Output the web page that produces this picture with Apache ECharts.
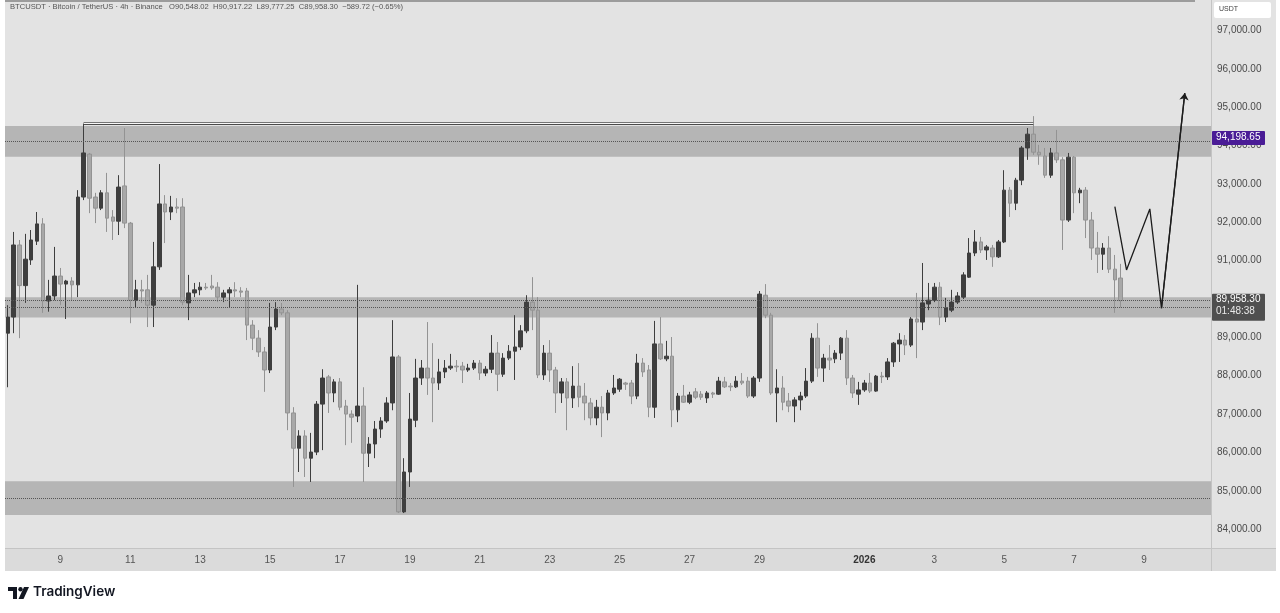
<!DOCTYPE html>
<html>
<head>
<meta charset="utf-8">
<script src="https://cdn.jsdelivr.net/npm/echarts@6/dist/echarts.min.js"></script>
<style>
  html, body { margin: 0; padding: 0; background: #ffffff; }
  #chart { width: 1280px; height: 613px; }
</style>
</head>
<body>
<div id="chart"></div>
<script>
// BTCUSDT 4h candles, 7 Dec 2025 12:00 -> 8 Jan 2026 08:00
const opens = [
  89110, 89530, 91410, 90350, 91020, 91510, 91960, 89950, 90080, 90600,
  90390, 90470, 90370, 92660, 93780, 92660, 92370, 92770, 92140, 92030,
  92950, 91980, 89970, 90240, 90240, 89840, 90840, 92480, 92270, 92400,
  92400, 89900, 90160, 90240, 90310, 90340, 90310, 90050, 90160, 90240,
  90210, 90210, 89320, 88980, 88620, 88150, 89270, 89740, 89640, 87030,
  86110, 86430, 85850, 86010, 87260, 87970, 87550, 87840, 87210, 87000,
  86950, 87210, 85980, 86220, 86610, 86820, 87290, 88490, 84450, 85490,
  86840, 87940, 88200, 87940, 87810, 88100, 88200, 88250, 88250, 88150,
  88200, 88330, 88070, 88170, 88590, 88040, 88460, 88640, 88750, 89170,
  89920, 89710, 88020, 88590, 88150, 87550, 87840, 87420, 87730, 87470,
  87290, 86900, 87180, 87030, 87550, 87650, 87810, 87810, 87470, 88330,
  88150, 87180, 88830, 88440, 88510, 87110, 87470, 87310, 87580, 87520,
  87420, 87550, 87520, 87840, 87730, 87710, 87860, 87860, 87470, 87940,
  90100, 89580, 87550, 87680, 87340, 87210, 87370, 87470, 87860, 88980,
  88200, 88460, 88440, 88590, 88980, 87940, 87520, 87630, 87810, 87600,
  87990, 87970, 88360, 88830, 88930, 88800, 89480, 89400, 89870, 89970,
  90310, 89530, 89710, 89920, 90050, 90570, 91200, 91490, 91280, 91330,
  91100, 91490, 92840, 92500, 93100, 93940, 94300, 93830, 93730, 93230,
  93810, 93630, 92060, 93700, 92770, 92840, 92060, 91330, 91170, 91330,
  90780, 90548.02
];
const closes = [
  89530, 91410, 90350, 91040, 91540, 91960, 89950, 90080, 90600, 90390,
  90470, 90370, 92660, 93810, 92630, 92370, 92770, 92110, 92030, 92920,
  91980, 89970, 90240, 90210, 89840, 90840, 92480, 92270, 92400, 92370,
  89920, 90160, 90240, 90310, 90290, 90290, 90050, 90160, 90240, 90210,
  90180, 89320, 88980, 88620, 88150, 89270, 89740, 89640, 87030, 86110,
  86430, 85850, 86010, 87260, 87940, 87550, 87840, 87180, 87000, 86920,
  87210, 85980, 86220, 86610, 86820, 87290, 88490, 84450, 85490, 86870,
  87940, 88200, 87940, 87810, 88100, 88200, 88250, 88230, 88150, 88200,
  88330, 88070, 88170, 88590, 88040, 88460, 88640, 88750, 89170, 89920,
  89710, 88020, 88590, 88150, 87550, 87840, 87420, 87730, 87440, 87290,
  86900, 87180, 87030, 87550, 87680, 87910, 87780, 87470, 88330, 88100,
  87180, 88830, 88440, 88510, 87110, 87470, 87310, 87500, 87440, 87440,
  87550, 87520, 87860, 87710, 87710, 87860, 87810, 87470, 87940, 90130,
  89580, 87550, 87680, 87310, 87210, 87370, 87470, 87860, 88980, 88200,
  88460, 88410, 88590, 88980, 87940, 87550, 87630, 87810, 87600, 87990,
  87970, 88360, 88850, 88930, 88800, 89480, 89400, 89900, 89970, 90310,
  89530, 89770, 89920, 90080, 90630, 91200, 91490, 91280, 91360, 91100,
  91490, 92840, 92500, 93100, 93940, 94300, 93830, 93760, 93230, 93810,
  93630, 92060, 93700, 92770, 92840, 92060, 91330, 91170, 91330, 90780,
  90500, 89958.30
];
const lows = [
  87700, 89110, 88980, 89900, 90890, 91410, 89640, 89670, 89970, 89840,
  89480, 89970, 90050, 92580, 92240, 91980, 92320, 91750, 91540, 91670,
  91850, 89370, 89770, 89900, 89270, 89270, 90760, 91460, 92060, 92240,
  89840, 89450, 90050, 90100, 90240, 90240, 89920, 89920, 89790, 90050,
  90050, 88930, 88670, 88490, 87580, 88070, 89190, 89580, 86580, 85100,
  85490, 85360, 85230, 85930, 86060, 87030, 87310, 87100, 86190, 86250,
  86790, 85230, 85620, 85850, 86380, 86770, 87100, 84420, 84420, 85100,
  86660, 87760, 87500, 86790, 87630, 87940, 88150, 88100, 87810, 88100,
  88150, 87890, 87990, 88070, 87600, 87970, 88410, 87890, 88670, 89110,
  89190, 87940, 87890, 87840, 87030, 87290, 86580, 87160, 87180, 86840,
  86710, 86710, 86400, 86840, 87500, 87580, 87630, 87260, 87390, 87970,
  86920, 86900, 88410, 88380, 86660, 86790, 87290, 87260, 87390, 87370,
  87290, 87420, 87500, 87680, 87600, 87680, 87760, 87420, 87420, 87840,
  89500, 87500, 86790, 87100, 87050, 86790, 87100, 87420, 87810, 87970,
  87840, 88150, 88330, 88410, 87760, 87420, 87240, 87580, 87550, 87580,
  87810, 87890, 88230, 88360, 88540, 88750, 88460, 89190, 89710, 89920,
  89320, 89400, 89660, 89870, 90000, 90550, 91120, 91200, 91020, 90840,
  91070, 91460, 92140, 92320, 92970, 93630, 93760, 93500, 93160, 93160,
  93550, 91280, 92010, 92240, 92500, 91590, 91020, 90680, 90760, 90680,
  89640, 89777.25
];
const highs = [
  89840, 91750, 91540, 91700, 91800, 92270, 92110, 90500, 91360, 90810,
  90500, 90570, 92840, 94580, 93810, 92770, 92840, 93290, 92320, 93230,
  94460, 92010, 90500, 90500, 90630, 91490, 93520, 92710, 92690, 92630,
  92630, 90630, 90420, 90440, 90420, 90630, 90440, 90240, 90310, 90440,
  90310, 90290, 89450, 89190, 88750, 89900, 89920, 89900, 89710, 87180,
  86580, 86580, 86510, 87340, 88170, 88020, 87910, 87940, 87370, 87100,
  90370, 87700, 86400, 86820, 86920, 87440, 89450, 88540, 85850, 87550,
  88440, 88410, 89400, 88850, 88440, 88410, 88570, 88410, 88360, 88310,
  88410, 88410, 88250, 89060, 88880, 88590, 88800, 89580, 89320, 90100,
  90570, 90050, 88800, 88930, 88230, 87940, 87940, 88250, 88330, 87810,
  87420, 87370, 87470, 87630, 88020, 87940, 87840, 87890, 88570, 88460,
  88280, 89430, 89530, 88910, 89010, 87550, 87760, 87580, 87680, 87600,
  87600, 87580, 87970, 87970, 87810, 87990, 88070, 87970, 87990, 90210,
  90390, 89640, 88170, 87990, 87550, 87440, 87580, 88200, 89110, 89370,
  88570, 88800, 88670, 89010, 89190, 88020, 87840, 87890, 88070, 88020,
  88100, 88460, 88880, 89110, 89060, 89530, 90160, 90940, 90420, 90420,
  90440, 90030, 90240, 90180, 90700, 91590, 91800, 91620, 91410, 91410,
  91540, 93360, 92920, 93160, 93990, 94460, 94770, 94020, 93940, 93940,
  94410, 93700, 93810, 93730, 92900, 92920, 92270, 91750, 91460, 91640,
  91150, 90917.22
];

// zones (gray boxes) and dotted levels
const zones = [[93710, 94510], [89520, 90050], [84370, 85250]];
const dottedLevels = [94120, 89958.30, 89790, 84800];
const resistance = { from: 13, to: 176, value: 94580 };
// hand drawn projection
const pathIdx = [190, 192, 196, 198, 202];
const pathVals = [92410, 90760, 92350, 89760, 95370];

const yTicks = [84000, 85000, 86000, 87000, 88000, 89000, 90000, 91000,
                92000, 93000, 94000, 95000, 96000, 97000];
const tickDates = ['2025-12-09', '2025-12-11', '2025-12-13', '2025-12-15', '2025-12-17',
                   '2025-12-19', '2025-12-21', '2025-12-23', '2025-12-25', '2025-12-27',
                   '2025-12-29', '2026-01-01', '2026-01-03', '2026-01-05', '2026-01-07', '2026-01-09'];
const tickLabels = ['9', '11', '13', '15', '17', '19', '21', '23', '25', '27', '29',
                    '2026', '3', '5', '7', '9'];

// 4h slots (incl. empty space on the right)
const categories = [];
const t0 = Date.UTC(2025, 11, 7, 12);
for (let i = 0; i < 207; i++) {
  categories.push(new Date(t0 + i * 4 * 3600 * 1000).toISOString().slice(0, 16));
}

function tickText(cat) {
  if (cat.slice(11, 13) !== '00') return null;
  const k = tickDates.indexOf(cat.slice(0, 10));
  return k < 0 ? null : tickLabels[k];
}

const candles = opens.map((o, i) => [o, closes[i], lows[i], highs[i]]);
const pathData = pathIdx.map((x, i) => [x, pathVals[i]]);
const fmt = v => v.toLocaleString('en-US', { minimumFractionDigits: 2, maximumFractionDigits: 2 });

const chart = echarts.init(document.getElementById('chart'));
chart.setOption({
  animation: false,
  backgroundColor: '#ffffff',
  grid: { left: 5, top: 3, width: 1206, height: 545 },
  xAxis: {
    type: 'category',
    data: categories,
    boundaryGap: true,
    axisLine: { show: false },
    axisTick: { show: false },
    splitLine: { show: false },
    axisLabel: {
      interval: (i, v) => tickText(v) !== null,
      formatter: v => {
        const t = tickText(v);
        return t === '2026' ? '{b|2026}' : t;
      },
      color: '#555555',
      fontSize: 10,
      fontFamily: 'Liberation Sans',
      margin: 7,
      rich: { b: { fontWeight: 'bold', color: '#333333', fontSize: 10, fontFamily: 'Liberation Sans' } }
    }
  },
  yAxis: {
    type: 'value',
    position: 'right',
    min: 83508,
    max: 97720,
    axisLine: { show: false },
    axisTick: { show: false },
    splitLine: { show: false },
    axisLabel: {
      customValues: yTicks,
      formatter: v => fmt(v),
      color: '#4a4a4a',
      fontSize: 10,
      fontFamily: 'Liberation Sans',
      margin: 6
    }
  },
  series: [
    {
      name: 'zones',
      type: 'line',
      data: [],
      z: 1,
      silent: true,
      markArea: {
        silent: true,
        itemStyle: { color: '#b5b5b5' },
        data: zones.map(z => [{ yAxis: z[0] }, { yAxis: z[1] }])
      },
      markLine: {
        silent: true,
        symbol: 'none',
        label: { show: false },
        lineStyle: { type: 'dotted', color: '#555555', width: 1 },
        data: dottedLevels.map(v => ({ yAxis: v }))
      }
    },
    {
      name: 'BTCUSDT',
      type: 'candlestick',
      data: candles,
      z: 3,
      barWidth: 4,
      itemStyle: {
        color: '#3e3e3e',
        color0: '#a8a8a8',
        borderColor: '#3e3e3e',
        borderColor0: '#939393',
        borderWidth: 1
      }
    },
    {
      name: 'resistanceOuter',
      type: 'line',
      z: 4,
      symbol: 'none',
      data: [[resistance.from, resistance.value], [resistance.to, resistance.value]],
      lineStyle: { color: '#4a4a4a', width: 3 }
    },
    {
      name: 'resistanceInner',
      type: 'line',
      z: 5,
      symbol: 'none',
      data: [[resistance.from, resistance.value], [resistance.to, resistance.value]],
      lineStyle: { color: '#f7f7f7', width: 1.2 }
    },
    {
      name: 'projection',
      type: 'line',
      z: 6,
      symbol: 'none',
      data: pathData,
      lineStyle: { color: '#1c1c1c', width: 1.3 },
      markLine: {
        silent: true,
        symbol: ['none', 'arrow'],
        symbolSize: 7,
        label: { show: false },
        lineStyle: { color: '#1c1c1c', width: 1.3, type: 'solid' },
        data: [[{ coord: [pathIdx[3], pathVals[3]] }, { coord: [pathIdx[4], pathVals[4]] }]]
      }
    }
  ]
});

// frame, labels and tags
const yTop = chart.convertToPixel({ yAxisIndex: 0 }, 94198.65);
const yLast = chart.convertToPixel({ yAxisIndex: 0 }, closes[closes.length - 1]);
chart.setOption({
  graphic: [
    { type: 'rect', z: 0, shape: { x: 5, y: 0, width: 1271, height: 549 }, style: { fill: '#e3e3e3' } },
    { type: 'rect', z: 0, shape: { x: 5, y: 549, width: 1271, height: 22 }, style: { fill: '#dbdbdb' } },
    { type: 'rect', z: 0, shape: { x: 5, y: 548, width: 1271, height: 1 }, style: { fill: '#c4c4c4' } },
    { type: 'rect', z: 0, shape: { x: 1211, y: 0, width: 1, height: 571 }, style: { fill: '#c4c4c4' } },
    { type: 'rect', z: 0, shape: { x: 5, y: 0, width: 1190, height: 2 }, style: { fill: '#9c9c9c' } },
    {
      type: 'text', z: 20, left: 10, top: 3,
      style: {
        text: 'BTCUSDT · Bitcoin / TetherUS · 4h · Binance   O90,548.02  H90,917.22  L89,777.25  C89,958.30  −589.72 (−0.65%)',
        fill: '#555555', font: '7.6px "Liberation Sans"'
      }
    },
    { type: 'rect', z: 20, shape: { x: 1214, y: 2, width: 57, height: 16, r: 2 }, style: { fill: '#ffffff' } },
    { type: 'text', z: 21, left: 1219, top: 6, style: { text: 'USDT', fill: '#444444', font: '7px "Liberation Sans"' } },
    { type: 'rect', z: 20, shape: { x: 1212, y: yTop - 7, width: 53, height: 14, r: 1 }, style: { fill: '#4a1c96' } },
    { type: 'text', z: 21, left: 1216, top: yTop - 6, style: { text: '94,198.65', fill: '#ffffff', font: '10px "Liberation Sans"' } },
    { type: 'rect', z: 20, shape: { x: 1212, y: yLast - 7, width: 53, height: 27, r: 1 }, style: { fill: '#4f4f4f' } },
    { type: 'text', z: 21, left: 1216, top: yLast - 6, style: { text: fmt(closes[closes.length - 1]), fill: '#ffffff', font: '10px "Liberation Sans"' } },
    { type: 'text', z: 21, left: 1216, top: yLast + 6, style: { text: '01:48:38', fill: '#e8e8e8', font: '10px "Liberation Sans"' } },
    // TradingView mark
    { type: 'polygon', z: 20, shape: { points: [[8, 587], [17, 587], [17, 599], [13, 599], [13, 591], [8, 591]] }, style: { fill: '#131722' } },
    { type: 'circle', z: 20, shape: { cx: 20.5, cy: 589.2, r: 2.2 }, style: { fill: '#131722' } },
    { type: 'polygon', z: 20, shape: { points: [[24, 587], [29, 587], [23.5, 599], [18.5, 599]] }, style: { fill: '#131722' } },
    { type: 'text', z: 20, left: 33, top: 585, style: { text: 'TradingView', fill: '#131722', font: '600 13.5px Inter' } }
  ]
});
</script>
</body>
</html>
